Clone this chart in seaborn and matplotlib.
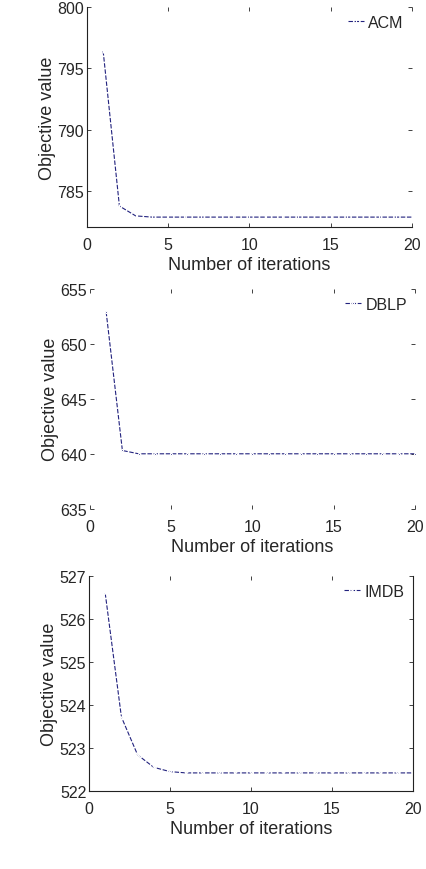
import numpy as np
import pandas as pd
import matplotlib
matplotlib.use("Agg")
import matplotlib.pyplot as plt
import seaborn as sns

iterations = list(range(1, 21))
acm_values = [796.4, 783.8, 783.0] + [782.9] * 17
dblp_values = [652.9, 640.3] + [640.0] * 18
imdb_values = [526.6, 523.72, 522.84, 522.55, 522.45] + [522.42] * 15

sns.set_theme(style="white")
plt.rcParams["font.family"] = ["Liberation Sans", "DejaVu Sans"]

line_color = "#22227e"

panels = [
    # name, values, ylim, yticks, axes rect, marker, spines shown
    ("ACM", acm_values, (782.1, 800), [785, 790, 795, 800],
     [0.204, 0.738, 0.763, 0.253], "|", ["left", "bottom"]),
    ("DBLP", dblp_values, (635, 655), [635, 640, 645, 650, 655],
     [0.211, 0.414, 0.763, 0.253], ".", []),
    ("IMDB", imdb_values, (522, 527), [522, 523, 524, 525, 526, 527],
     [0.209, 0.0897, 0.760, 0.247], "x", ["left", "bottom", "right"]),
]

fig = plt.figure(figsize=(4.26, 8.70), dpi=100)

for name, values, ylim, yticks, rect, marker, spines in panels:
    ax = fig.add_axes(rect)
    df = pd.DataFrame({"iteration": iterations, "value": values})
    sns.lineplot(data=df, x="iteration", y="value", ax=ax, color=line_color,
                 linewidth=0.8, linestyle=(0, (4, 1.5)), marker=marker,
                 markersize=3, markeredgewidth=0.8, label=name)
    ax.set_xlim(0, 20)
    ax.set_ylim(*ylim)
    ax.set_xticks([0, 5, 10, 15, 20])
    ax.set_yticks(yticks)
    ax.set_xlabel("Number of iterations", fontsize=13, labelpad=3)
    ax.set_ylabel("Objective value", fontsize=13, labelpad=1)
    ax.tick_params(axis="both", labelsize=11.5, direction="in", length=3,
                   width=0.6, color="#222222", top=True, right=True,
                   bottom=True, left=True, pad=2)
    ax.tick_params(axis="x", pad=7)
    for side in ["left", "bottom", "top", "right"]:
        ax.spines[side].set_visible(side in spines)
        ax.spines[side].set_color("#222222")
        ax.spines[side].set_linewidth(0.8)
    ax.legend(loc="upper right", frameon=False, fontsize=11.5,
              handlelength=1.0, handletextpad=0.3, borderaxespad=0.1)

fig.savefig("out.png", dpi=100)
